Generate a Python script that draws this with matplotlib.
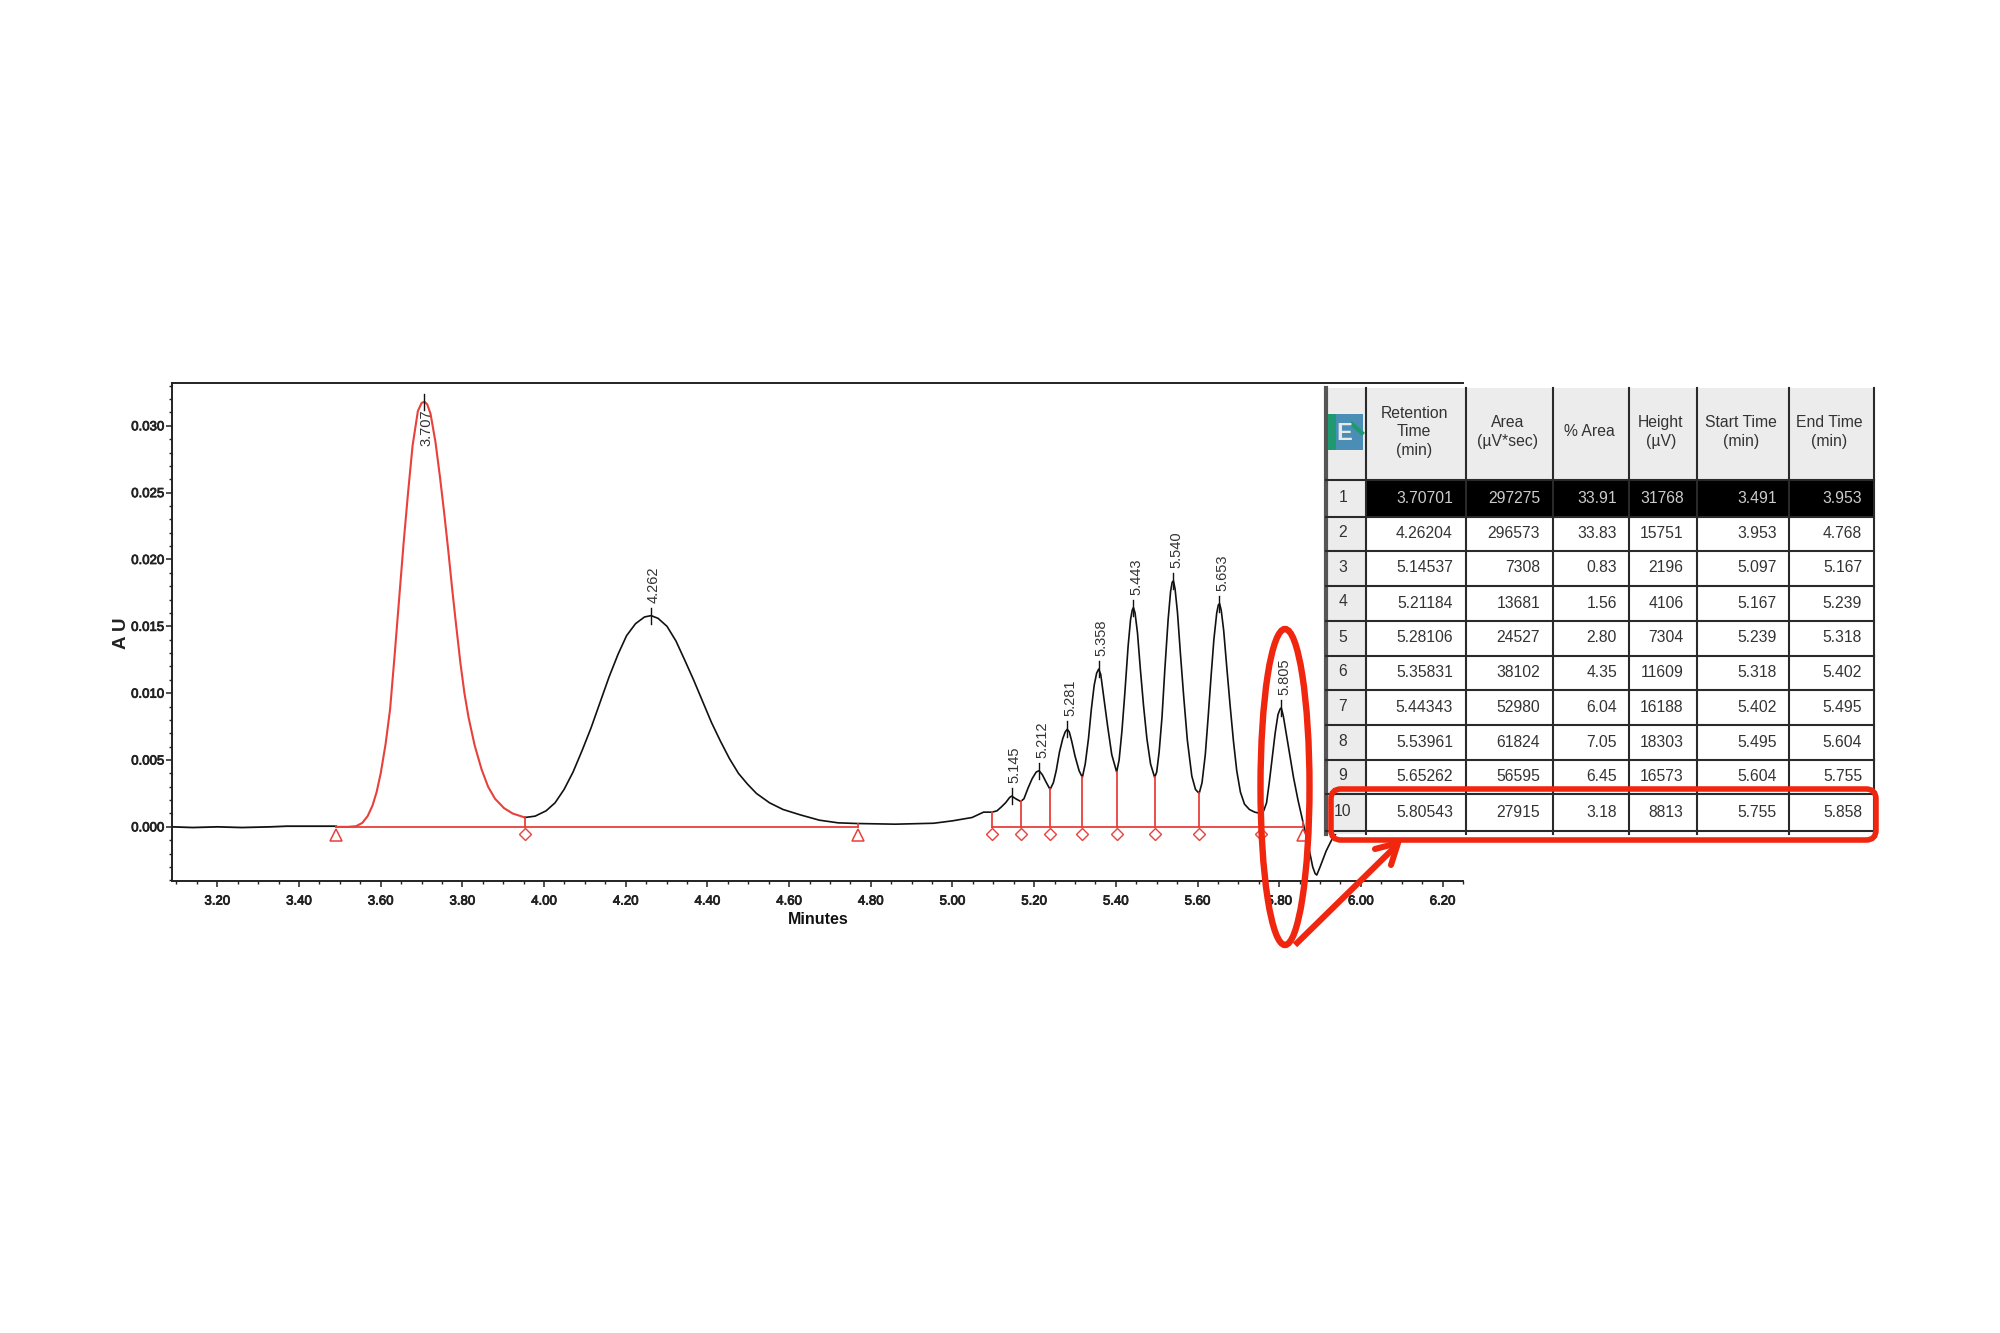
#!/usr/bin/env python3
"""Chromatogram with peak table, highlighted peak 10."""
import numpy as np
import matplotlib
matplotlib.use("Agg")
import matplotlib.pyplot as plt
from matplotlib.patches import Ellipse, FancyBboxPatch, Rectangle
from matplotlib.ticker import MultipleLocator, FormatStrFormatter
import matplotlib.patheffects as pe

plt.rcParams["font.family"] = ["Liberation Sans", "DejaVu Sans"]

# trace
red_t = [3.491, 3.52, 3.54, 3.555, 3.568, 3.58, 3.59, 3.60, 3.612, 3.623, 3.634, 3.645, 3.656, 3.667, 3.678,
         3.691, 3.70, 3.707, 3.714, 3.722, 3.734, 3.745, 3.755, 3.765, 3.775, 3.785, 3.795, 3.805, 3.815, 3.83,
         3.847, 3.863, 3.88, 3.902, 3.923, 3.953]
red_v = [0.0, 0.0, 0.00005, 0.0003, 0.0008, 0.0016, 0.0026, 0.0040, 0.0062, 0.0088, 0.0128, 0.0170, 0.0212,
         0.0250, 0.0285, 0.0311, 0.0317, 0.0318, 0.0316, 0.0309, 0.0288, 0.0262, 0.0236, 0.0208, 0.0178, 0.0150,
         0.0123, 0.0100, 0.0082, 0.0061, 0.0043, 0.003, 0.0021, 0.0014, 0.001, 0.0007]
pre_t = [3.09, 3.14, 3.20, 3.26, 3.33, 3.37, 3.491]
pre_v = [0.0, -0.00005, 0.0, -0.00005, 0.0, 0.00005, 0.00005]
blk_t = [3.953, 3.978, 4.005, 4.027, 4.049, 4.071, 4.093, 4.115, 4.137, 4.159, 4.181, 4.202, 4.224, 4.246, 4.262,
         4.279, 4.301, 4.323, 4.344, 4.366, 4.388, 4.41, 4.432, 4.454, 4.476, 4.498, 4.52, 4.552, 4.585, 4.627,
         4.674, 4.72, 4.767, 4.86, 4.954, 5.0, 5.048, 5.076, 5.097, 5.109, 5.12, 5.13, 5.14, 5.145, 5.155, 5.167,
         5.175, 5.185, 5.195, 5.205, 5.212, 5.22, 5.23, 5.239, 5.247, 5.254, 5.262, 5.27, 5.276, 5.281, 5.286, 5.292,
         5.30, 5.31, 5.318, 5.325, 5.333, 5.34, 5.347, 5.353, 5.358, 5.363, 5.37, 5.38, 5.39, 5.402, 5.408, 5.415,
         5.422, 5.43, 5.436, 5.44, 5.443, 5.447, 5.453, 5.46, 5.468, 5.476, 5.485, 5.495, 5.50, 5.506, 5.513, 5.52,
         5.528, 5.534, 5.538, 5.541, 5.545, 5.551, 5.558, 5.566, 5.575, 5.586, 5.595, 5.604, 5.611, 5.619, 5.626,
         5.633, 5.64, 5.647, 5.651, 5.654, 5.658, 5.664, 5.672, 5.68, 5.688, 5.696, 5.705, 5.715, 5.727, 5.74, 5.755,
         5.762, 5.769, 5.776, 5.783, 5.79, 5.797, 5.802, 5.805, 5.81, 5.816, 5.825, 5.835, 5.846, 5.858, 5.872, 5.882,
         5.888, 5.892, 5.90, 5.915, 5.928, 5.95]
blk_v = [0.0007, 0.0008, 0.0012, 0.0018, 0.0028, 0.0041, 0.0057, 0.0074, 0.0093, 0.0112, 0.0129, 0.0143, 0.0152,
         0.0157, 0.0158, 0.0156, 0.015, 0.0139, 0.0125, 0.011, 0.0094, 0.0078, 0.0064, 0.0051, 0.004, 0.0032, 0.0025,
         0.0018, 0.0013, 0.0009, 0.0005, 0.0003, 0.00025, 0.0002, 0.00027, 0.00045, 0.0007, 0.0011, 0.0011, 0.0012,
         0.0015, 0.0018, 0.0022, 0.0023, 0.0021, 0.0019, 0.0021, 0.0029, 0.0036, 0.0041, 0.0042, 0.0039, 0.0033,
         0.0028, 0.0033, 0.0042, 0.0056, 0.0066, 0.0071, 0.0073, 0.0071, 0.0064, 0.0053, 0.0042, 0.0037, 0.0047,
         0.0066, 0.0088, 0.0106, 0.0115, 0.0118, 0.0114, 0.0098, 0.0075, 0.0054, 0.0041, 0.005, 0.0072, 0.01, 0.0135,
         0.0155, 0.0162, 0.0164, 0.016, 0.0145, 0.0118, 0.009, 0.0066, 0.0047, 0.0037, 0.0041, 0.0056, 0.0082, 0.0118,
         0.0155, 0.0176, 0.0183, 0.0184, 0.0178, 0.016, 0.013, 0.0098, 0.0065, 0.0038, 0.0028, 0.0025, 0.0033, 0.0054,
         0.0082, 0.0112, 0.014, 0.016, 0.0166, 0.0167, 0.0162, 0.0147, 0.0118, 0.009, 0.0064, 0.0042, 0.0026, 0.0017,
         0.0013, 0.0011, 0.001, 0.0012, 0.0018, 0.0034, 0.0052, 0.007, 0.0084, 0.0088, 0.0089, 0.0083, 0.0072, 0.0055,
         0.0037, 0.002, 0.0004, -0.0015, -0.003, -0.0035, -0.0036, -0.003, -0.0018, -0.001, 0.0]

# peak table
col_labels = ["Retention\nTime\n(min)", "Area\n(µV*sec)", "% Area", "Height\n(µV)", "Start Time\n(min)", "End Time\n(min)"]
ret_time = ["3.70701", "4.26204", "5.14537", "5.21184", "5.28106", "5.35831", "5.44343", "5.53961", "5.65262", "5.80543"]
area = ["297275", "296573", "7308", "13681", "24527", "38102", "52980", "61824", "56595", "27915"]
pct_area = ["33.91", "33.83", "0.83", "1.56", "2.80", "4.35", "6.04", "7.05", "6.45", "3.18"]
height = ["31768", "15751", "2196", "4106", "7304", "11609", "16188", "18303", "16573", "8813"]
start_time = ["3.491", "3.953", "5.097", "5.167", "5.239", "5.318", "5.402", "5.495", "5.604", "5.755"]
end_time = ["3.953", "4.768", "5.167", "5.239", "5.318", "5.402", "5.495", "5.604", "5.755", "5.858"]

peak_rt = [3.707, 4.262, 5.145, 5.212, 5.281, 5.358, 5.443, 5.540, 5.653, 5.805]
tri_t = [3.491, 4.768, 5.858]
dia_t = [3.953, 5.097, 5.167, 5.239, 5.318, 5.402, 5.495, 5.604, 5.755]
base_runs = [(3.491, 4.768), (5.097, 5.858)]

RED = "#e8403a"
ANN = "#f0260f"
W, H = 2000, 1333

fig = plt.figure(figsize=(W / 100, H / 100), dpi=100)
L, R, T, B = 172, 1463, 383, 881
ax = fig.add_axes([L / W, 1 - B / H, (R - L) / W, (B - T) / H])
ax.set_xlim(3.089, 6.25)
ax.set_ylim(-0.00405, 0.0332)

all_t = pre_t + red_t[1:] + blk_t[1:]
all_v = pre_v + red_v[1:] + blk_v[1:]

ax.plot(pre_t, pre_v, color="#111", lw=1.3)
ax.plot(red_t, red_v, color=RED, lw=1.5)
ax.plot(blk_t, blk_v, color="#111", lw=1.2)

for a, b in base_runs:
    ax.plot([a, b], [0, 0], color=RED, lw=1.3)
for t in tri_t + dia_t:
    ax.plot([t, t], [0, np.interp(t, all_t, all_v)], color=RED, lw=1.3)
ax.plot(tri_t, [-0.0006] * len(tri_t), ls="", marker="^", ms=9, mfc="none", mec=RED, mew=1.1)
ax.plot(dia_t, [-0.00055] * len(dia_t), ls="", marker="D", ms=6.5, mfc="none", mec=RED, mew=1.0)

for i, t in enumerate(peak_rt):
    v = np.interp(t, all_t, all_v)
    ax.plot([t, t], [v - 0.0006, v + 0.0006], color="#111", lw=1.0)
    if i == 0:
        ax.annotate(f"{t:.3f}", (t, v), xytext=(2, -8), textcoords="offset pixels", rotation=90,
                    ha="center", va="top", fontsize=10.5, color="#333")
    else:
        ax.annotate(f"{t:.3f}", (t, v), xytext=(3, 13), textcoords="offset pixels", rotation=90,
                    ha="center", va="bottom", fontsize=10.5, color="#333")

ax.xaxis.set_major_locator(MultipleLocator(0.2))
ax.xaxis.set_minor_locator(MultipleLocator(0.05))
ax.yaxis.set_major_locator(MultipleLocator(0.005))
ax.yaxis.set_minor_locator(MultipleLocator(0.001))
ax.xaxis.set_major_formatter(FormatStrFormatter("%.2f"))
ax.yaxis.set_major_formatter(FormatStrFormatter("%.3f"))
ax.tick_params(which="major", length=4.5, width=1.1, labelsize=9.5, pad=6, color="#222", labelcolor="#222")
ax.tick_params(which="minor", length=2.5, width=1.0, color="#222")
ax.tick_params(axis="y", which="major", pad=1)
for lab in ax.get_xticklabels() + ax.get_yticklabels():
    lab.set_path_effects([pe.withStroke(linewidth=0.6, foreground="#222")])
ax.spines["right"].set_visible(False)
for s in ("left", "bottom", "top"):
    ax.spines[s].set_linewidth(1.4)
    ax.spines[s].set_color("#222")
ax.text((818 - L) / (R - L), -(920 - B) / (B - T), "Minutes", transform=ax.transAxes, ha="center", va="center",
        fontsize=11.5, fontweight="bold", color="#111")
ax.text((122 - L) / (R - L), (B - 633) / (B - T), "A U", transform=ax.transAxes, rotation=90,
        ha="center", va="center", fontsize=13.5, fontweight="bold", color="#222")

# overlay in pixel coordinates for the table and the red marks
ov = fig.add_axes([0, 0, 1, 1], facecolor="none")
ov.set_xlim(0, W)
ov.set_ylim(H, 0)
ov.axis("off")

col_x = [1326, 1366, 1466, 1553, 1629, 1696.5, 1789, 1874]
row_y = [388, 480, 516.5, 550.5, 585.5, 620.5, 655.5, 690, 725, 759.5, 794, 831]
right_x = [1453, 1540, 1617, 1683.5, 1776.5, 1862]
columns = [ret_time, area, pct_area, height, start_time, end_time]
LINE = "#2a2a2a"

ov.add_patch(Rectangle((col_x[0], row_y[0]), col_x[-1] - col_x[0], 834 - row_y[0], fc="white", ec="none", zorder=1))
ov.add_patch(Rectangle((col_x[0], row_y[0]), col_x[-1] - col_x[0], row_y[1] - row_y[0], fc="#ececec", ec="none", zorder=1))
ov.add_patch(Rectangle((col_x[0], row_y[0]), col_x[1] - col_x[0], 834 - row_y[0], fc="#ececec", ec="none", zorder=1))
ov.add_patch(Rectangle((col_x[1], row_y[1]), col_x[-1] - col_x[1], row_y[2] - row_y[1], fc="black", ec="none", zorder=1))

for x in col_x[1:]:
    ov.plot([x, x], [row_y[0], 834], color=LINE, lw=1.5, zorder=2)
ov.plot([col_x[0], col_x[0]], [row_y[0], 834], color="#555", lw=3, zorder=2)
for y in row_y[1:]:
    ov.plot([col_x[0], col_x[-1]], [y, y], color=LINE, lw=1.5, zorder=2)

for j, lab in enumerate(col_labels):
    ov.text((col_x[j + 1] + col_x[j + 2]) / 2 - 2, (row_y[0] + row_y[1]) / 2 - 2, lab, ha="center", va="center",
            fontsize=11.3, color="#333", linespacing=1.3, zorder=3)
for i in range(len(ret_time)):
    yc = (row_y[i + 1] + row_y[i + 2]) / 2
    ov.text(1343, yc - 1, str(i + 1), ha="center", va="center", fontsize=11.3, color="#333", zorder=3)
    for j, col in enumerate(columns):
        ov.text(right_x[j], yc, col[i], ha="right", va="center", fontsize=11.3,
                color="#ccc" if i == 0 else "#333", zorder=3)

# little program icon in the header corner
ov.add_patch(Rectangle((1328, 414), 35, 36, fc="#4a8db5", ec="none", zorder=3))
ov.add_patch(Rectangle((1328, 414), 8, 36, fc="#1f9a70", ec="none", zorder=3))
ov.plot([1352, 1362], [424, 433], color="#1f9a70", lw=3, zorder=3)
ov.text(1344, 433, "E", ha="center", va="center", fontsize=17, fontweight="bold", color="#e8e8e8", zorder=4)

# red highlights
ov.add_patch(Ellipse((1285, 787), 49, 316, fc="none", ec=ANN, lw=4.6, zorder=5))
ov.add_patch(FancyBboxPatch((1331, 789), 545, 51, boxstyle="round,pad=0,rounding_size=10", fc="none", ec=ANN,
                            lw=4, zorder=5))
ov.plot([1295, 1397], [945, 845], color=ANN, lw=4.4, zorder=5, solid_capstyle="butt")
ov.plot([1375, 1398, 1391], [849, 843, 865], color=ANN, lw=4.4, zorder=5, solid_joinstyle="miter", solid_capstyle="round")

fig.savefig("out.png", dpi=100)
